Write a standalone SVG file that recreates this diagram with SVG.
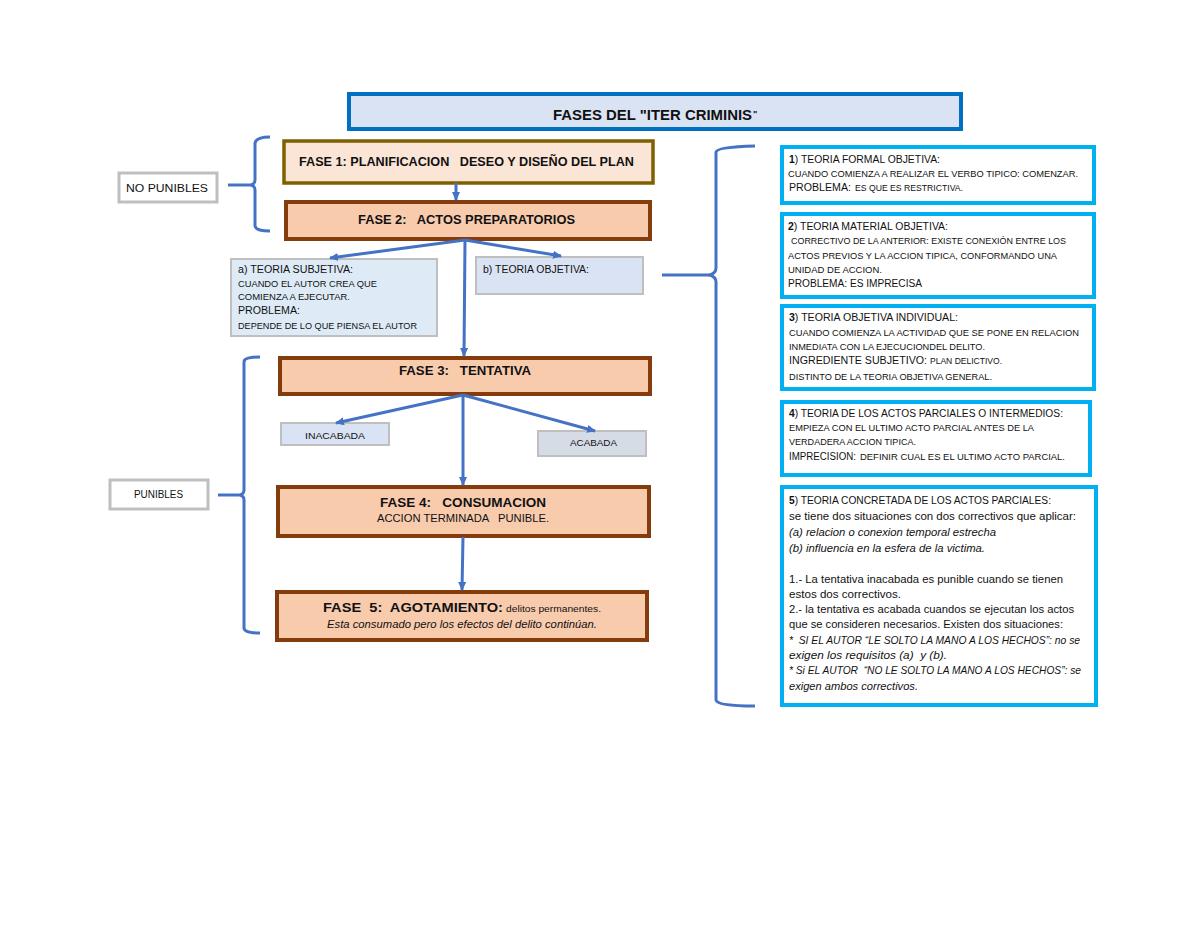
<svg xmlns="http://www.w3.org/2000/svg" width="1200" height="927" viewBox="0 0 1200 927" xml:space="preserve">
<defs>
<marker id="ah" markerWidth="9" markerHeight="8" refX="8" refY="4" orient="auto" markerUnits="userSpaceOnUse">
<path d="M0,0 L9,4 L0,8 Z" fill="#4472C4"/>
</marker>
<style>
text{font-family:"Liberation Sans",Arial,sans-serif;fill:#111;white-space:pre}
.fb{font-weight:bold;font-size:12.5px}
.fr{font-size:11px}
.gray{fill:#fff;stroke:#BFBFBF;stroke-width:3}
.lb{fill:#DEEBF7;stroke:#BFBFBF;stroke-width:2}
.fase{fill:#F8CBAD;stroke:#843C0C;stroke-width:4}
.tb{fill:#fff;stroke:#00B0F0;stroke-width:4}
.h{font-size:10px}
.s{font-size:9.5px}
.m{font-size:10.5px}
.i{font-style:italic}
.con{fill:none;stroke:#4472C4;stroke-width:3}
</style>
</defs>
<rect width="1200" height="927" fill="#fff"/>
<g id="title">
<rect x="349" y="94" width="612" height="35" fill="#DAE3F3" stroke="#0070C0" stroke-width="4"/>
<text x="553" y="120" font-size="15" font-weight="bold" textLength="199" lengthAdjust="spacingAndGlyphs">FASES DEL "ITER CRIMINIS</text>
<text x="753" y="117" font-size="9" font-weight="bold">"</text>
</g>
<g id="no-punibles">
<rect class="gray" x="119" y="173" width="98" height="29"/>
<text x="126" y="192" font-size="10.5" textLength="82" lengthAdjust="spacingAndGlyphs">NO PUNIBLES</text>
</g>
<g id="punibles">
<rect class="gray" x="110" y="480" width="98" height="29"/>
<text x="134" y="498" font-size="10.5" textLength="49" lengthAdjust="spacingAndGlyphs">PUNIBLES</text>
</g>
<g id="fase1">
<rect x="284" y="141" width="369" height="42" fill="#FBE5D6" stroke="#7F6000" stroke-width="3.5"/>
<text class="fb" x="299" y="166" textLength="335" lengthAdjust="spacingAndGlyphs">FASE 1: PLANIFICACION   DESEO Y DISEÑO DEL PLAN</text>
</g>
<g id="fase2">
<rect class="fase" x="286" y="202" width="364" height="37"/>
<text class="fb" x="358" y="224" textLength="217" lengthAdjust="spacingAndGlyphs">FASE 2:   ACTOS PREPARATORIOS</text>
</g>
<g id="teoria-subjetiva">
<rect class="lb" x="231" y="259" width="206" height="77"/>
<text class="h" x="238" y="273" textLength="115" lengthAdjust="spacingAndGlyphs">a) TEORIA SUBJETIVA:</text>
<text class="s" x="238" y="287" textLength="139" lengthAdjust="spacingAndGlyphs">CUANDO EL AUTOR CREA QUE</text>
<text class="s" x="238" y="300" textLength="112" lengthAdjust="spacingAndGlyphs">COMIENZA A EJECUTAR.</text>
<text class="h" x="238" y="314" textLength="62" lengthAdjust="spacingAndGlyphs">PROBLEMA:</text>
<text class="s" x="238" y="329" textLength="179" lengthAdjust="spacingAndGlyphs">DEPENDE DE LO QUE PIENSA EL AUTOR</text>
</g>
<g id="teoria-objetiva">
<rect x="476" y="257" width="167" height="37" fill="#DAE3F3" stroke="#BFBFBF" stroke-width="2"/>
<text class="h" x="483" y="273" textLength="106" lengthAdjust="spacingAndGlyphs">b) TEORIA OBJETIVA:</text>
</g>
<g id="fase3">
<rect class="fase" x="280" y="358" width="370" height="36"/>
<text class="fb" x="399" y="375" textLength="132" lengthAdjust="spacingAndGlyphs">FASE 3:   TENTATIVA</text>
</g>
<g id="inacabada">
<rect x="281" y="423" width="108" height="22" fill="#DAE3F3" stroke="#BFBFBF" stroke-width="2"/>
<text x="305" y="439" font-size="9.5" textLength="60" lengthAdjust="spacingAndGlyphs">INACABADA</text>
</g>
<g id="acabada">
<rect x="538" y="431" width="108" height="25" fill="#D6DCE5" stroke="#BFBFBF" stroke-width="2"/>
<text x="570" y="446" font-size="9.5" textLength="47" lengthAdjust="spacingAndGlyphs">ACABADA</text>
</g>
<g id="fase4">
<rect class="fase" x="278" y="487" width="371" height="49"/>
<text class="fb" x="380" y="507" textLength="166" lengthAdjust="spacingAndGlyphs">FASE 4:   CONSUMACION</text>
<text class="fr" x="377" y="522" textLength="172" lengthAdjust="spacingAndGlyphs">ACCION TERMINADA   PUNIBLE.</text>
</g>
<g id="fase5">
<rect class="fase" x="277" y="592" width="370" height="48"/>
<text class="fb" x="323" y="612" textLength="180" lengthAdjust="spacingAndGlyphs">FASE  5:  AGOTAMIENTO:</text>
<text x="506" y="612" font-size="9.5" textLength="95" lengthAdjust="spacingAndGlyphs">delitos permanentes.</text>
<text class="i" x="327" y="628" font-size="10" textLength="270" lengthAdjust="spacingAndGlyphs">Esta consumado pero los efectos del delito continúan.</text>
</g>
<g id="teoria1">
<rect class="tb" x="782" y="147" width="312" height="56"/>
<text class="h" x="789" y="163" textLength="151" lengthAdjust="spacingAndGlyphs"><tspan font-weight="bold">1</tspan>) TEORIA FORMAL OBJETIVA:</text>
<text class="s" x="788" y="177" textLength="290" lengthAdjust="spacingAndGlyphs">CUANDO COMIENZA A REALIZAR EL VERBO TIPICO: COMENZAR.</text>
<text class="h" x="789" y="191" textLength="62" lengthAdjust="spacingAndGlyphs">PROBLEMA:</text>
<text class="s" x="855" y="191" textLength="108" lengthAdjust="spacingAndGlyphs">ES QUE ES RESTRICTIVA.</text>
</g>
<g id="teoria2">
<rect class="tb" x="782" y="214" width="312" height="83"/>
<text class="h" x="788" y="230" textLength="160" lengthAdjust="spacingAndGlyphs"><tspan font-weight="bold">2</tspan>) TEORIA MATERIAL OBJETIVA:</text>
<text class="s" x="791" y="244" textLength="275" lengthAdjust="spacingAndGlyphs">CORRECTIVO DE LA ANTERIOR: EXISTE CONEXIÓN ENTRE LOS</text>
<text class="s" x="788" y="259" textLength="269" lengthAdjust="spacingAndGlyphs">ACTOS PREVIOS Y LA ACCION TIPICA, CONFORMANDO UNA</text>
<text class="s" x="788" y="273" textLength="94" lengthAdjust="spacingAndGlyphs">UNIDAD DE ACCION.</text>
<text class="h" x="788" y="287" textLength="134" lengthAdjust="spacingAndGlyphs">PROBLEMA: ES IMPRECISA</text>
</g>
<g id="teoria3">
<rect class="tb" x="782" y="306" width="312" height="83"/>
<text class="h" x="789" y="321" textLength="169" lengthAdjust="spacingAndGlyphs"><tspan font-weight="bold">3</tspan>) TEORIA OBJETIVA INDIVIDUAL:</text>
<text class="s" x="789" y="336" textLength="290" lengthAdjust="spacingAndGlyphs">CUANDO COMIENZA LA ACTIVIDAD QUE SE PONE EN RELACION</text>
<text class="s" x="789" y="350" textLength="196" lengthAdjust="spacingAndGlyphs">INMEDIATA CON LA EJECUCIONDEL DELITO.</text>
<text class="h" x="789" y="364" textLength="138" lengthAdjust="spacingAndGlyphs">INGREDIENTE SUBJETIVO:</text>
<text class="s" x="930" y="364" textLength="72" lengthAdjust="spacingAndGlyphs">PLAN DELICTIVO.</text>
<text class="s" x="789" y="380" textLength="203" lengthAdjust="spacingAndGlyphs">DISTINTO DE LA TEORIA OBJETIVA GENERAL.</text>
</g>
<g id="teoria4">
<rect class="tb" x="782" y="402" width="308" height="73"/>
<text class="h" x="789" y="417" textLength="274" lengthAdjust="spacingAndGlyphs"><tspan font-weight="bold">4</tspan>) TEORIA DE LOS ACTOS PARCIALES O INTERMEDIOS:</text>
<text class="s" x="789" y="431" textLength="245" lengthAdjust="spacingAndGlyphs">EMPIEZA CON EL ULTIMO ACTO PARCIAL ANTES DE LA</text>
<text class="s" x="789" y="445" textLength="127" lengthAdjust="spacingAndGlyphs">VERDADERA ACCION TIPICA.</text>
<text class="h" x="789" y="460" textLength="67" lengthAdjust="spacingAndGlyphs">IMPRECISION:</text>
<text class="s" x="860" y="460" textLength="205" lengthAdjust="spacingAndGlyphs">DEFINIR CUAL ES EL ULTIMO ACTO PARCIAL.</text>
</g>
<g id="teoria5">
<rect class="tb" x="782" y="487" width="314" height="218"/>
<text class="h" x="789" y="504" textLength="262" lengthAdjust="spacingAndGlyphs"><tspan font-weight="bold">5</tspan>) TEORIA CONCRETADA DE LOS ACTOS PARCIALES:</text>
<text class="m" x="789" y="520" textLength="287" lengthAdjust="spacingAndGlyphs">se tiene dos situaciones con dos correctivos que aplicar:</text>
<text class="m i" x="789" y="536" textLength="207" lengthAdjust="spacingAndGlyphs">(a) relacion o conexion temporal estrecha</text>
<text class="m i" x="789" y="552" textLength="196" lengthAdjust="spacingAndGlyphs">(b) influencia en la esfera de la victima.</text>
<text class="m" x="789" y="583" textLength="274" lengthAdjust="spacingAndGlyphs">1.- La tentativa inacabada es punible cuando se tienen</text>
<text class="m" x="789" y="598" textLength="112" lengthAdjust="spacingAndGlyphs">estos dos correctivos.</text>
<text class="m" x="789" y="613" textLength="285" lengthAdjust="spacingAndGlyphs">2.- la tentativa es acabada cuandos se ejecutan los actos</text>
<text class="m" x="789" y="628" textLength="274" lengthAdjust="spacingAndGlyphs">que se consideren necesarios. Existen dos situaciones:</text>
<text class="m i" x="789" y="644" textLength="291" lengthAdjust="spacingAndGlyphs">*  SI EL AUTOR “LE SOLTO LA MANO A LOS HECHOS”: no se</text>
<text class="m i" x="789" y="659" textLength="158" lengthAdjust="spacingAndGlyphs">exigen los requisitos (a)  y (b).</text>
<text class="m i" x="789" y="674" textLength="292" lengthAdjust="spacingAndGlyphs">* Si EL AUTOR  “NO LE SOLTO LA MANO A LOS HECHOS”: se</text>
<text class="m i" x="789" y="690" textLength="129" lengthAdjust="spacingAndGlyphs">exigen ambos correctivos.</text>
</g>
<g id="connectors">
<path class="con" d="M270,137 Q256,137 255,143 L255,180 Q255,184 251,185 Q255,186 255,190 L255,226 Q256,231 270,231"/>
<path class="con" d="M228,185 L251,185"/>
<path class="con" d="M260,357 Q244,357 244,362 L244,490 Q244,494 240,495 Q244,496 244,500 L244,628 Q244,633 260,633"/>
<path class="con" d="M218,495 L240,495"/>
<path class="con" d="M755,146 Q717,147 716,152 L716,268 Q716,273 710,275 Q716,277 716,282 L716,700 Q717,706 755,706"/>
<path class="con" d="M662,275 L710,275"/>
<path class="con" d="M456,183 L456,200" marker-end="url(#ah)"/>
<path class="con" d="M465,240 L330,258" marker-end="url(#ah)"/>
<path class="con" d="M465,240 L561,256" marker-end="url(#ah)"/>
<path class="con" d="M465,240 L464,356" marker-end="url(#ah)"/>
<path class="con" d="M463,395 L336,423" marker-end="url(#ah)"/>
<path class="con" d="M463,395 L595,431" marker-end="url(#ah)"/>
<path class="con" d="M463,395 L463,485" marker-end="url(#ah)"/>
<path class="con" d="M463,537 L462,590" marker-end="url(#ah)"/>
</g>
</svg>
